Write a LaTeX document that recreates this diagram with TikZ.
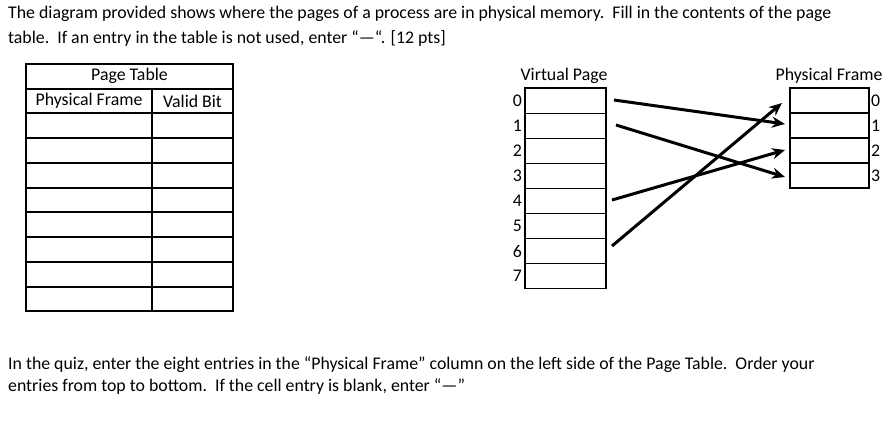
\documentclass[tikz,border=0pt]{standalone}
\usepackage{fontspec}
\setmainfont{Carlito}
\usetikzlibrary{arrows.meta}
\begin{document}
\begin{tikzpicture}[x=1pt,y=-1pt,font=\fontsize{17.8}{20}\selectfont,
  cell/.style={draw,line width=1.1pt},
  lbl/.style={inner sep=0pt},
  arr/.style={line width=3pt,-{Stealth[length=13pt,width=11pt]}}]
\useasboundingbox (0,0) rectangle (891,437);
\node[lbl,anchor=west] (t1) at (8,14) {The diagram provided shows where the pages of a process are in physical memory.\ \ Fill in the contents of the page};
\node[lbl,anchor=west] (t2) at (8,38) {table.\ \ If an entry in the table is not used, enter “—“. [12 pts]};
% page table
\draw[cell] (26,64) rectangle (233,311);
\foreach \y in {89,113,138,163,188,212,237,262,287} \draw[cell] (26,\y) -- (233,\y);
\draw[cell] (152,89) -- (152,311);
\node[lbl] (pt) at (129.5,76) {Page Table};
\node[lbl] (pf) at (89,101) {Physical Frame};
\node[lbl] (vb) at (192.5,101) {Valid Bit};
% virtual pages
\node[lbl] (vph) at (564,76) {Virtual Page};
\foreach \i in {0,...,7}{
  \node[cell,minimum width=81pt,minimum height=25.1pt,inner sep=0pt] (v\i) at (565.5,{100.5+25.1*\i}) {};
  \node[lbl,anchor=east] (vl\i) at (522,{100.5+25.1*\i}) {\i};
}
\node[lbl] (pfh) at (829,76) {Physical Frame};
\foreach \i in {0,...,3}{
  \node[cell,minimum width=79pt,minimum height=25pt,inner sep=0pt] (p\i) at (829.5,{100.5+25*\i}) {};
  \node[lbl,anchor=west] (pl\i) at (871,{100.5+25*\i}) {\i};
}
\coordinate (s0) at (614,100); \coordinate (e0) at (785,124);
\coordinate (s1) at (616,125); \coordinate (e1) at (785,177);
\coordinate (s4) at (612,200); \coordinate (e4) at (785,150);
\coordinate (s6) at (612,246); \coordinate (e6) at (782,103);
\draw[arr] (s0) -- (e0);
\draw[arr] (s1) -- (e1);
\draw[arr] (s4) -- (e4);
\draw[arr] (s6) -- (e6);
\node[lbl,anchor=west] (b1) at (8,365) {In the quiz, enter the eight entries in the “Physical Frame” column on the left side of the Page Table.\ \ Order your};
\node[lbl,anchor=west] (b2) at (8,387) {entries from top to bottom.\ \ If the cell entry is blank, enter “—”};
\end{tikzpicture}
\end{document}
